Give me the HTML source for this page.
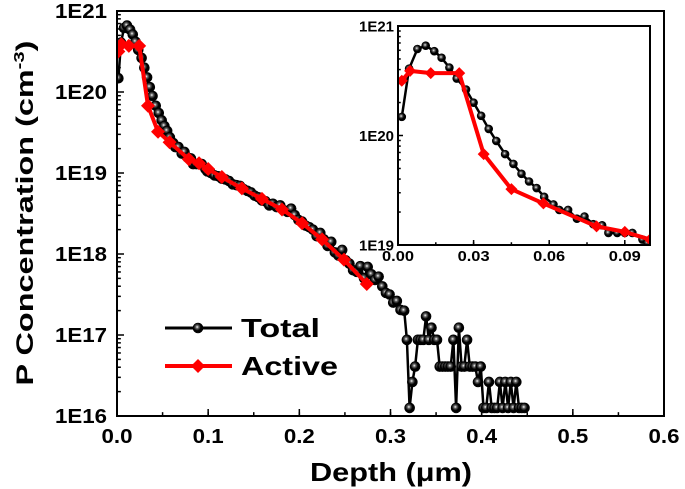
<!DOCTYPE html>
<html><head><meta charset="utf-8"><style>
html,body{margin:0;padding:0;background:#fff;overflow:hidden;width:685px;height:489px;}
svg{display:block;font-family:"Liberation Sans",Arial,sans-serif;font-weight:bold;}
</style></head><body>
<svg id="chart" width="685" height="489" viewBox="0 0 685 489" xmlns="http://www.w3.org/2000/svg">
<defs>
<radialGradient id="ball" cx="0.42" cy="0.4" r="0.6"><stop offset="0" stop-color="#fff"/><stop offset="0.25" stop-color="#666"/><stop offset="0.6" stop-color="#000"/><stop offset="1" stop-color="#000"/></radialGradient>
<clipPath id="mainClip"><rect x="117" y="11" width="547" height="405"/></clipPath>
<clipPath id="insetClip"><rect x="398" y="26" width="252" height="219"/></clipPath>
</defs>
<g id="main"></g>
<g id="inset"></g>
<g id="legend"></g>
</svg>
<script>
const totalX = [0.0015,0.0044,0.0077,0.011,0.0144,0.0173,0.0204,0.0233,0.027,0.030,0.033,0.036,0.039,0.0425,0.0458,0.049,0.052,0.055,0.058,0.0617,0.064,0.0675,0.071,0.074,0.0775,0.081,0.0835,0.087,0.090,0.093,0.097,0.099,
0.103,0.107,0.111,0.115,0.119,0.123,0.127,0.131,0.135,0.139,0.143,0.147,0.151,0.155,0.159,0.163,0.167,0.171,0.175,0.179,0.183,0.187,0.191,0.195,0.199,0.203,0.207,0.211,0.215,0.219,0.223,0.227,0.231,0.235,0.239,0.243,0.247,0.251,0.255,0.259,0.263,0.267,0.271,0.275,0.279,0.283,0.287,0.291,0.295,0.299,0.303,0.307,0.311,0.315,0.318,
0.321,0.324,0.327,0.330,0.333,0.336,0.339,0.342,0.345,0.348,0.351,0.354,0.357,0.360,0.363,0.366,0.369,0.372,0.375,0.378,0.381,0.384,0.387,0.390,0.393,0.396,0.399,0.402,0.405,0.408,0.411,0.414,0.417,0.420,0.423,0.426,0.429,0.432,0.435,0.438,0.441,0.444,0.447];
const totalLog = [20.17,20.61,20.79,20.82,20.77,20.71,20.62,20.52,20.42,20.30,20.18,20.06,19.95,19.83,19.74,19.65,19.58,19.52,19.44,19.37,19.32,19.32,19.24,19.26,19.19,19.18,19.11,19.11,19.11,19.11,19.05,19.02,
19.00,18.97,18.96,18.93,18.92,18.90,18.86,18.85,18.84,18.80,18.78,18.76,18.72,18.70,18.66,18.65,18.60,18.62,18.58,18.60,18.54,18.52,18.56,18.48,18.42,18.40,18.35,18.33,18.30,18.22,18.26,18.18,18.10,18.15,18.02,17.98,18.05,17.92,17.88,17.80,17.78,17.85,17.70,17.84,17.75,17.68,17.72,17.60,17.52,17.50,17.40,17.42,17.31,17.30,16.94,
16.10,16.42,16.61,16.94,16.94,16.94,17.23,16.94,17.09,16.94,16.94,16.61,16.61,16.61,16.61,16.61,16.94,16.10,17.09,16.61,16.61,16.94,16.61,16.61,16.61,16.42,16.61,16.10,16.10,16.42,16.10,16.10,16.10,16.42,16.10,16.42,16.10,16.42,16.10,16.42,16.10,16.10,16.10];
const activeX = [0.0015,0.0048,0.013,0.0243,0.034,0.045,0.0577,0.0788,0.090,0.100,0.115,0.137,0.159,0.181,0.203,0.225,0.249,0.274];
const activeLog = [20.50,20.59,20.57,20.57,19.83,19.51,19.38,19.17,19.12,19.05,18.95,18.81,18.68,18.55,18.38,18.18,17.93,17.63];
const mainXTicks = ["0.0","0.1","0.2","0.3","0.4","0.5","0.6"];
const mainYTicks = ["1E16","1E17","1E18","1E19","1E20","1E21"];
const insetXTicks = ["0.00","0.03","0.06","0.09"];
const insetYTicks = ["1E19","1E20","1E21"];

const NS="http://www.w3.org/2000/svg";
function mk(tag,parent,attrs){const e=document.createElementNS(NS,tag);for(const k in attrs)e.setAttribute(k,attrs[k]);parent.appendChild(e);return e;}

function drawPlot(g,box,xmax,ymin,ymax,xt,xtVals,yt,ytVals,fs,clipId,lw,rBall,dSize,xMinorStep,tickLen,xlabDy,ylabGap,ylabW,xlabW){
  const sx=v=>box.x+v/xmax*box.w;
  const sy=v=>box.y+box.h-(v-ymin)/(ymax-ymin)*box.h;
  const bg=mk('rect',g,{x:box.x,y:box.y,width:box.w,height:box.h,fill:'#fff',stroke:'none'});
  
  
  const tg=mk('g',g,{stroke:'#000','stroke-width':1.5});
  for(let d=ymin;d<ymax;d++){for(let m=2;m<10;m++){const y=sy(d+Math.log10(m));mk('line',tg,{x1:box.x,x2:box.x+tickLen*0.55,y1:y,y2:y});}}
  for(let i=0;i<ytVals.length;i++){const y=sy(ytVals[i]);mk('line',tg,{x1:box.x,x2:box.x+tickLen,y1:y,y2:y});
    const t=mk('text',g,{x:box.x-ylabGap-ylabW,y:y+fs*0.36,'font-size':fs,fill:'#000',textLength:ylabW,lengthAdjust:'spacingAndGlyphs'});t.textContent=yt[i];
    
    }
  for(let v=xMinorStep;v<xmax;v+=xMinorStep){const x=sx(v);mk('line',tg,{x1:x,x2:x,y1:box.y+box.h,y2:box.y+box.h-tickLen*0.55});}
  for(let i=0;i<xtVals.length;i++){const x=sx(xtVals[i]);mk('line',tg,{x1:x,x2:x,y1:box.y+box.h,y2:box.y+box.h-tickLen});
    const t=mk('text',g,{x:x-xlabW/2,y:box.y+box.h+xlabDy,'font-size':fs,fill:'#000',textLength:xlabW,lengthAdjust:'spacingAndGlyphs'});t.textContent=xt[i];
    
    }
  const sg=mk('g',g,{'clip-path':'url(#'+clipId+')'});
  let p='';for(let i=0;i<totalX.length;i++){p+=(i?'L':'M')+sx(totalX[i]).toFixed(1)+','+sy(totalLog[i]).toFixed(1);}
  const tl=mk('path',sg,{d:p,fill:'none',stroke:'#000','stroke-width':lw,'stroke-linejoin':'round'});
  
  
  for(let i=0;i<totalX.length;i++){const c=mk('circle',sg,{cx:sx(totalX[i]),cy:sy(totalLog[i]),r:rBall,fill:'url(#ball)',stroke:'#000','stroke-width':0.6});
    
    }
  let q='';for(let i=0;i<activeX.length;i++){q+=(i?'L':'M')+sx(activeX[i]).toFixed(1)+','+sy(activeLog[i]).toFixed(1);}
  const al=mk('path',sg,{d:q,fill:'none',stroke:'#f00','stroke-width':lw+1.5,'stroke-linejoin':'round'});
  
  
  for(let i=0;i<activeX.length;i++){const x=sx(activeX[i]),y=sy(activeLog[i]),d=dSize;
    const m=mk('path',sg,{d:`M${x},${y-d}L${x+d},${y}L${x},${y+d}L${x-d},${y}Z`,fill:'#f00'});
    
    }
  const fr=mk('rect',g,{x:box.x,y:box.y,width:box.w,height:box.h,fill:'none',stroke:'#000','stroke-width':2});
  
  
}
const main=document.getElementById('main');
drawPlot(main,{x:117,y:11,w:547,h:405},0.6,16,21,mainXTicks,[0,0.1,0.2,0.3,0.4,0.5,0.6],mainYTicks,[16,17,18,19,20,21],20,'mainClip',2.5,5,7,0.05,7,27,10,52,31);
const inset=document.getElementById('inset');
drawPlot(inset,{x:398,y:26,w:252,h:219},0.1,19,21,insetXTicks,[0,0.03,0.06,0.09],insetYTicks,[19,20,21],15,'insetClip',2.5,4,6,0.015,5,16,4,35,32);

const svg=document.getElementById('chart');
const xt=mk('text',svg,{x:310,y:481,'font-size':26,fill:'#000',textLength:162,lengthAdjust:'spacingAndGlyphs'});
xt.textContent='Depth (\u03bcm)';


const yt=mk('text',svg,{x:-172.5,y:0,'font-size':24,fill:'#000',textLength:345,lengthAdjust:'spacingAndGlyphs',transform:'translate(33,213) rotate(-90)'});
yt.innerHTML='P Concentration (cm<tspan dy="-9" font-size="15">-3</tspan><tspan dy="9">)</tspan>';



const lg=document.getElementById('legend');
const e1=mk('g',lg,{});


mk('line',e1,{x1:165,x2:232,y1:328,y2:328,stroke:'#000','stroke-width':3});
mk('circle',e1,{cx:198,cy:328,r:5,fill:'url(#ball)',stroke:'#000','stroke-width':0.6});
const t1=mk('text',e1,{x:241,y:337,'font-size':26,fill:'#000',textLength:79,lengthAdjust:'spacingAndGlyphs'});t1.textContent='Total';
const e2=mk('g',lg,{});


mk('line',e2,{x1:165,x2:232,y1:366,y2:366,stroke:'#f00','stroke-width':4});
mk('path',e2,{d:'M198,359L205,366L198,373L191,366Z',fill:'#f00'});
const t2=mk('text',e2,{x:241,y:375,'font-size':26,fill:'#000',textLength:97,lengthAdjust:'spacingAndGlyphs'});t2.textContent='Active';
</script>
</body></html>
